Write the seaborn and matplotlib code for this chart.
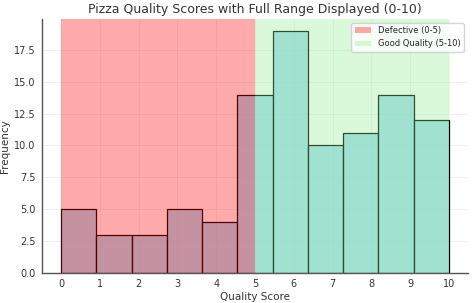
import numpy as np
import pandas as pd
import matplotlib
matplotlib.use("Agg")
import matplotlib.pyplot as plt
import seaborn as sns

# bin edges and counts
bin_edges = list(np.linspace(0, 10, 12))
counts = [5, 3, 3, 5, 4, 14, 19, 10, 11, 14, 12]
bin_centers = [(a + b) / 2 for a, b in zip(bin_edges[:-1], bin_edges[1:])]
df = pd.DataFrame({"score": bin_centers, "count": counts})

sns.set_style("whitegrid")
plt.rcParams['font.family'] = ['DejaVu Sans']

fig, ax = plt.subplots(figsize=(4.74, 3.03), dpi=100)

sns.histplot(data=df, x="score", weights="count", bins=bin_edges, color="skyblue",
             alpha=0.72, edgecolor="black", linewidth=0.9, ax=ax)

ax.axvspan(0, 5, color="red", alpha=0.33, label="Defective (0-5)", lw=0)
ax.axvspan(5, 10, color="lightgreen", alpha=0.33, label="Good Quality (5-10)", lw=0)

ax.set_title("Pizza Quality Scores with Full Range Displayed (0-10)", fontsize=9, pad=4, color="#333333")
ax.set_xlabel("Quality Score", fontsize=7.5, labelpad=2, color="#333333")
ax.set_ylabel("Frequency", fontsize=7.5, labelpad=3, color="#333333")
ax.set_xticks(range(0, 11))
ax.tick_params(labelsize=7, length=3, pad=1.5, color="#555555", labelcolor="#333333")
ax.grid(True, color="#eeeeee", lw=0.6)
for s in ["top", "right"]:
    ax.spines[s].set_visible(False)
for s in ["left", "bottom"]:
    ax.spines[s].set_color("#555555")
    ax.spines[s].set_linewidth(1.0)
ax.legend(loc="upper right", fontsize=6, frameon=True)

fig.subplots_adjust(left=0.088, right=0.988, bottom=0.1, top=0.938)
fig.savefig("out.png", dpi=100)
